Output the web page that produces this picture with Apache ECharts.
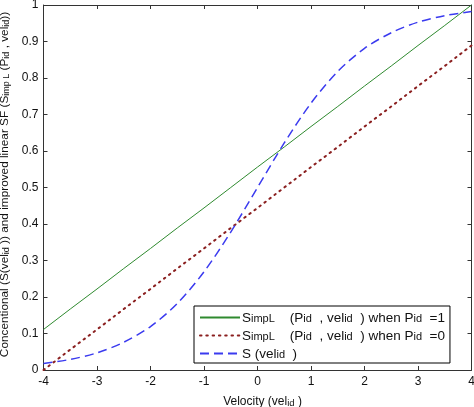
<!DOCTYPE html>
<html>
<head>
<meta charset="utf-8">
<script src="https://cdn.jsdelivr.net/npm/echarts@6/dist/echarts.min.js"></script>
<style>
html,body{margin:0;padding:0;background:#fff;}
#chart{width:474px;height:407px;}
</style>
</head>
<body>
<div id="chart"></div>
<script>
// Velocity samples (x)
var velocity = [-4, -3.5, -3, -2.5, -2, -1.5, -1, -0.5, 0, 0.5, 1, 1.5, 2, 2.5, 3, 3.5, 4];
// S_impL(P_id, vel_id) when P_id = 1
var simpLP1 = [0.111, 0.167, 0.222, 0.278, 0.333, 0.389, 0.444, 0.500, 0.556, 0.611, 0.667, 0.722, 0.778, 0.833, 0.889, 0.944, 1.000];
// S_impL(P_id, vel_id) when P_id = 0
var simpLP0 = [0.000, 0.056, 0.111, 0.167, 0.222, 0.278, 0.333, 0.389, 0.444, 0.500, 0.556, 0.611, 0.667, 0.722, 0.778, 0.833, 0.889];
// Conventional S(vel_id)
var sConv = [0.018, 0.029, 0.047, 0.076, 0.119, 0.182, 0.269, 0.378, 0.50, 0.622, 0.731, 0.818, 0.881, 0.924, 0.953, 0.971, 0.982];

var xTicks = ['-4', '-3', '-2', '-1', '0', '1', '2', '3', '4'];
var yTicks = ['0', '0.1', '0.2', '0.3', '0.4', '0.5', '0.6', '0.7', '0.8', '0.9', '1'];

function pairs(ys) { return velocity.map(function (x, i) { return [x, ys[i]]; }); }

var FONT = 'Liberation Sans, Arial, sans-serif';
var axisColor = '#333';
var rich = {
  a: { fontSize: 13.5, lineHeight: 13, verticalAlign: 'top', fontFamily: FONT, color: '#111' },
  b: { fontSize: 11, lineHeight: 11, verticalAlign: 'bottom', padding: [5, 0, 0, 0], fontFamily: FONT, color: '#111' }
};
var xrich = {
  a: { fontSize: 12, lineHeight: 12, verticalAlign: 'top', fontFamily: FONT, color: '#111' },
  b: { fontSize: 9.5, lineHeight: 9, verticalAlign: 'bottom', padding: [5, 0, 0, 0], fontFamily: FONT, color: '#111' }
};
var yrich = {
  a: { fontSize: 11.8, lineHeight: 12, verticalAlign: 'top', fontFamily: FONT, color: '#111' },
  b: { fontSize: 9, lineHeight: 9, verticalAlign: 'bottom', padding: [5, 0, 0, 0], fontFamily: FONT, color: '#111' }
};

var names = ['p1', 'p0', 'conv'];
var legendText = {
  p1: '{a|S}{b|impL}{a|    (P}{b|id}{a|  , vel}{b|id}{a|  ) when P}{b|id}{a|  =1}',
  p0: '{a|S}{b|impL}{a|    (P}{b|id}{a|  , vel}{b|id}{a|  ) when P}{b|id}{a|  =0}',
  conv: '{a|S (vel}{b|id}{a|  )}'
};

var chart = echarts.init(document.getElementById('chart'), null, { renderer: 'canvas' });
var tickCommon = { show: true, inside: true, length: 4, lineStyle: { color: axisColor } };
var option = {
  backgroundColor: '#fff',
  animation: false,
  grid: { left: 43.5, right: 2.5, top: 5, bottom: 37, containLabel: false, outerBoundsMode: 'none' },
  legend: {
    orient: 'vertical',
    left: 194,
    top: 306,
    itemWidth: 40,
    itemHeight: 10,
    itemGap: 1,
    padding: [2, 5, 2, 5],
    borderColor: '#000',
    borderWidth: 1,
    backgroundColor: '#fff',
    data: names,
    itemStyle: { opacity: 0 },
    formatter: function (n) { return legendText[n]; },
    textStyle: { rich: rich, padding: [0, 0, 0, -3] }
  },
  xAxis: [{
    type: 'value', min: -4, max: 4, interval: 1,
    position: 'bottom',
    name: '{a|Velocity (vel}{b|id}{a| )}',
    nameLocation: 'middle', nameGap: 21,
    nameTextStyle: { rich: xrich, padding: [0, 0, 0, 10] },
    axisLine: { show: true, onZero: false, lineStyle: { color: axisColor, width: 1 } },
    axisTick: tickCommon,
    axisLabel: { color: '#111', fontSize: 12, fontFamily: FONT, margin: 6,
      formatter: function (v) { return xTicks[Math.round(v + 4)]; } },
    splitLine: { show: false }
  }, {
    type: 'value', min: -4, max: 4, interval: 1,
    position: 'top',
    axisLine: { show: true, onZero: false, lineStyle: { color: axisColor, width: 1 } },
    axisTick: tickCommon,
    axisLabel: { show: false },
    splitLine: { show: false }
  }],
  yAxis: [{
    type: 'value', min: 0, max: 1, interval: 0.1,
    position: 'left',
    name: '{a|Concentional (S(vel}{b|id}{a| )) and improved linear SF (S}{b|imp L}{a| (P}{b|id}{a| , vel}{b|id}{a|))}',
    nameLocation: 'middle', nameGap: 29, nameRotate: 90,
    nameTextStyle: { rich: yrich, padding: [0, 0, 0, 6] },
    axisLine: { show: true, onZero: false, lineStyle: { color: axisColor, width: 1 } },
    axisTick: tickCommon,
    axisLabel: { color: '#111', fontSize: 12, fontFamily: FONT, margin: 5,
      formatter: function (v) { return yTicks[Math.round(v * 10)]; } },
    splitLine: { show: false }
  }, {
    type: 'value', min: 0, max: 1, interval: 0.1,
    position: 'right',
    axisLine: { show: true, onZero: false, lineStyle: { color: axisColor, width: 1 } },
    axisTick: tickCommon,
    axisLabel: { show: false },
    splitLine: { show: false }
  }],
  series: [{
    name: 'p1', type: 'line', data: pairs(simpLP1), symbol: 'none',
    lineStyle: { color: '#2f8a2f', width: 1 }, itemStyle: { color: '#2f8a2f' }
  }, {
    name: 'p0', type: 'line', data: pairs(simpLP0), symbol: 'none',
    lineStyle: { color: '#8b2020', width: 2, type: [1.5, 4.8], cap: 'round' }, itemStyle: { color: '#8b2020' }
  }, {
    name: 'conv', type: 'line', data: pairs(sConv), symbol: 'none', smooth: 0.3,
    lineStyle: { color: '#3b3bef', width: 1.5, type: [9, 5] }, itemStyle: { color: '#3b3bef' }
  }]
};
chart.setOption(option);
</script>
</body>
</html>
